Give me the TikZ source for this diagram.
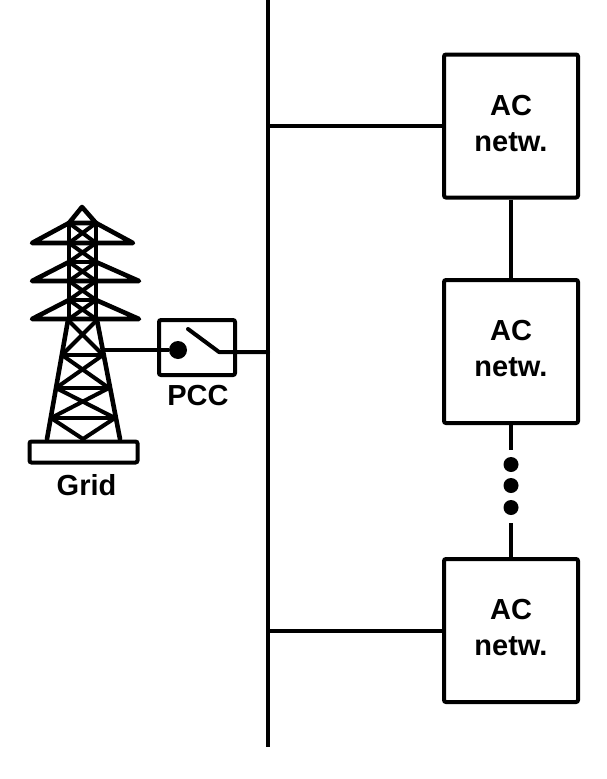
\documentclass[tikz,border=0pt]{standalone}
\usepackage{fontspec}
\setmainfont{Liberation Sans}
\begin{document}
\begin{tikzpicture}[x=1pt,y=-1pt,
  wire/.style={line width=4pt,line cap=butt,line join=round},
  twr/.style={line width=4.6pt,line cap=round,line join=round},
  twrx/.style={line width=4pt,line cap=round,line join=round},
  netbox/.style={draw,line width=4pt,rounded corners=2pt,minimum width=134pt,minimum height=143pt,inner sep=0pt,
    label={[align=center,inner sep=0pt,yshift=2.5pt,font=\fontsize{29}{36}\selectfont\bfseries]center:{AC\\netw.}}},
  pccbox/.style={draw,line width=4pt,rounded corners=2pt,minimum width=76pt,minimum height=55pt,inner sep=0pt},
  basebox/.style={draw,line width=4pt,rounded corners=2pt,minimum width=108pt,minimum height=21pt,inner sep=0pt},
  lbl/.style={font=\fontsize{29}{36}\selectfont\bfseries,inner sep=0pt},
  dotn/.style={circle,fill=black,inner sep=0pt}]
\useasboundingbox (0,0) rectangle (607,779);
% Boxes
\node[netbox] (n1) at (511,126) {};
\node[netbox] (n2) at (511,351.5) {};
\node[netbox] (n3) at (511,630.5) {};
\node[pccbox] (pcc) at (197,347.5) {};
\node[basebox] (base) at (83.5,452) {};
\node[lbl] (pcct) at (198,396) {PCC};
\node[lbl] (gridt) at (86.5,485) {Grid};
% Bus
\coordinate (bt) at (268,0);
\coordinate (bb) at (268,747);
\draw[wire] (bt) -- (bb);
\coordinate (b1) at (268,126);
\coordinate (b2) at (268,630.5);
\coordinate (b3) at (268,352);
\draw[wire] (b1) -- (n1.west);
\draw[wire] (b2) -- (n3.west);
% Right chain
\draw[wire] (n1.south) -- (n2.north);
\coordinate (d1) at (511,450);
\coordinate (d2) at (511,523);
\draw[wire] (n2.south) -- (d1);
\draw[wire] (d2) -- (n3.north);
\node[dotn,minimum size=15pt] (e1) at (511,464.5) {};
\node[dotn,minimum size=15pt] (e2) at (511,485.5) {};
\node[dotn,minimum size=15pt] (e3) at (511,507.5) {};
% Switch
\node[dotn,minimum size=18pt] (sd) at (178,350) {};
\coordinate (tw) at (105,350);
\coordinate (sa) at (188,329);
\coordinate (sb) at (219,352);
\draw[wire] (tw) -- (sd);
\draw[wire,line cap=round] (sa) -- (sb) -- (b3);
% Tower top and arms
\draw[twr] (69,223) -- (82,207) -- (96,223) -- cycle;
\draw[twr] (69,223) -- (32,243) -- (133,243) -- (96,223);
\draw[twr] (69,262) -- (32,281) -- (139,281) -- (96,262);
\draw[twr] (69,300) -- (32,319) -- (139,319) -- (96,300);
% Mast
\draw[twr] (69,223) -- (69,320) (96,223) -- (96,320);
\draw[twr] (69,262) -- (96,262) (69,300) -- (96,300);
\foreach \a/\b in {223/243,243/262,262/281,281/300,300/319}{
  \draw[twrx] (69,\a) -- (96,\b) (96,\a) -- (69,\b);
}
% Legs
\draw[twr] (68,320) -- (47,439) (97,320) -- (120,439);
\draw[twrx] (68,320) -- (103,355) (97,320) -- (62,355);
\draw[twrx] (62,355) -- (109,388) (103,355) -- (56,388);
\draw[twrx] (56,388) -- (115,418) (109,388) -- (51,418);
\draw[twrx] (51,418) -- (83,439) -- (115,418);
\draw[twrx] (62,355) -- (103,355) (56,388) -- (109,388) (51,418) -- (115,418);
\end{tikzpicture}
\end{document}
